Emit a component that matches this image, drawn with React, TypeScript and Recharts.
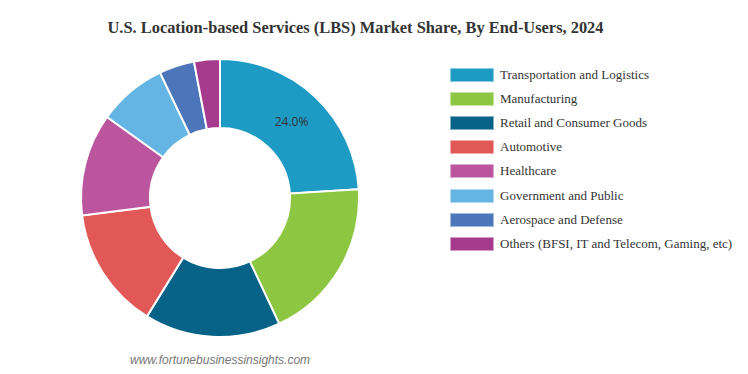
import React from 'react';
import { PieChart, Pie, Cell, Legend } from 'recharts';

// end-user segments, clockwise from 12 o'clock
const SEGMENTS = [
    'Transportation and Logistics',
    'Manufacturing',
    'Retail and Consumer Goods',
    'Automotive',
    'Healthcare',
    'Government and Public',
    'Aerospace and Defense',
    'Others (BFSI, IT and Telecom, Gaming, etc)'
];

const SHARES = [24.0, 19.0, 15.8, 14.2, 11.9, 8.0, 4.1, 3.0];

const COLORS = [
    '#1e9bc4', '#8dc641', '#066287', '#e25856',
    '#bb569e', '#64b5e3', '#4c76b9', '#a63a8c'
];

const chartData = SEGMENTS.map((name, i) => ({ name, value: SHARES[i] }));

const RADIAN = Math.PI / 180;

// only the leading slice carries a label in the original
const renderLabel = (props: any) => {
    const { cx, cy, midAngle, innerRadius, outerRadius, index, value } = props;
    if (index !== 0) return null;
    const r = (innerRadius + outerRadius) / 2;
    const x = cx + r * Math.cos(-midAngle * RADIAN);
    const y = cy + r * Math.sin(-midAngle * RADIAN);
    return (
        <text
            x={x}
            y={y}
            fill="#333"
            fontSize={12}
            fontFamily="'Open Sans', sans-serif"
            textAnchor="middle"
            dominantBaseline="central"
        >
            {value.toFixed(1)}%
        </text>
    );
};

const renderLegend = (props: any) => {
    // keep the data order (recharts sorts legend items by name otherwise)
    const items = [...(props.payload || [])].sort(
        (a: any, b: any) => SEGMENTS.indexOf(a.value) - SEGMENTS.indexOf(b.value)
    );
    return (
        <div>
            {items.map((entry: any, i: number) => (
                <div
                    key={i}
                    style={{ display: 'flex', alignItems: 'center', height: 24.1 }}
                >
                    <span
                        style={{
                            display: 'inline-block',
                            width: 42,
                            height: 12,
                            background: entry.color,
                            border: '1px solid rgba(255,255,255,0.5)',
                            marginRight: 6
                        }}
                    />
                    <span
                        style={{
                            fontFamily: "'Liberation Serif', 'Times New Roman', serif",
                            fontSize: 13,
                            color: '#333'
                        }}
                    >
                        {entry.value}
                    </span>
                </div>
            ))}
        </div>
    );
};

export default function App() {
    return (
        <div style={{ position: 'absolute', left: 0, top: 0, width: 748, height: 374, background: '#fff' }}>
            <div
                style={{
                    position: 'absolute',
                    top: 18,
                    left: 0,
                    width: 711,
                    textAlign: 'center',
                    fontFamily: "'Liberation Serif', 'Times New Roman', serif",
                    fontWeight: 'bold',
                    fontSize: 16.4,
                    color: '#333'
                }}
            >
                U.S. Location-based Services (LBS) Market Share, By End-Users, 2024
            </div>
            <PieChart
                width={748}
                height={374}
                margin={{ top: 0, right: 0, bottom: 0, left: 0 }}
                style={{ position: 'absolute', left: 0, top: 0 }}
            >
                <Pie
                    data={chartData}
                    dataKey="value"
                    nameKey="name"
                    cx={220}
                    cy={198}
                    innerRadius={70}
                    outerRadius={139}
                    startAngle={90}
                    endAngle={-270}
                    stroke="#fff"
                    strokeWidth={2}
                    label={renderLabel}
                    labelLine={false}
                    isAnimationActive={false}
                >
                    {chartData.map((d, i) => (
                        <Cell key={d.name} fill={COLORS[i]} />
                    ))}
                </Pie>
                <Legend
                    layout="vertical"
                    content={renderLegend}
                    wrapperStyle={{ position: 'absolute', left: 450, top: 63, width: 300 }}
                />
            </PieChart>
            <div
                style={{
                    position: 'absolute',
                    top: 353,
                    left: 130,
                    fontFamily: "'Liberation Sans', Arial, sans-serif",
                    fontStyle: 'italic',
                    fontSize: 12,
                    color: '#777'
                }}
            >
                www.fortunebusinessinsights.com
            </div>
        </div>
    );
}
